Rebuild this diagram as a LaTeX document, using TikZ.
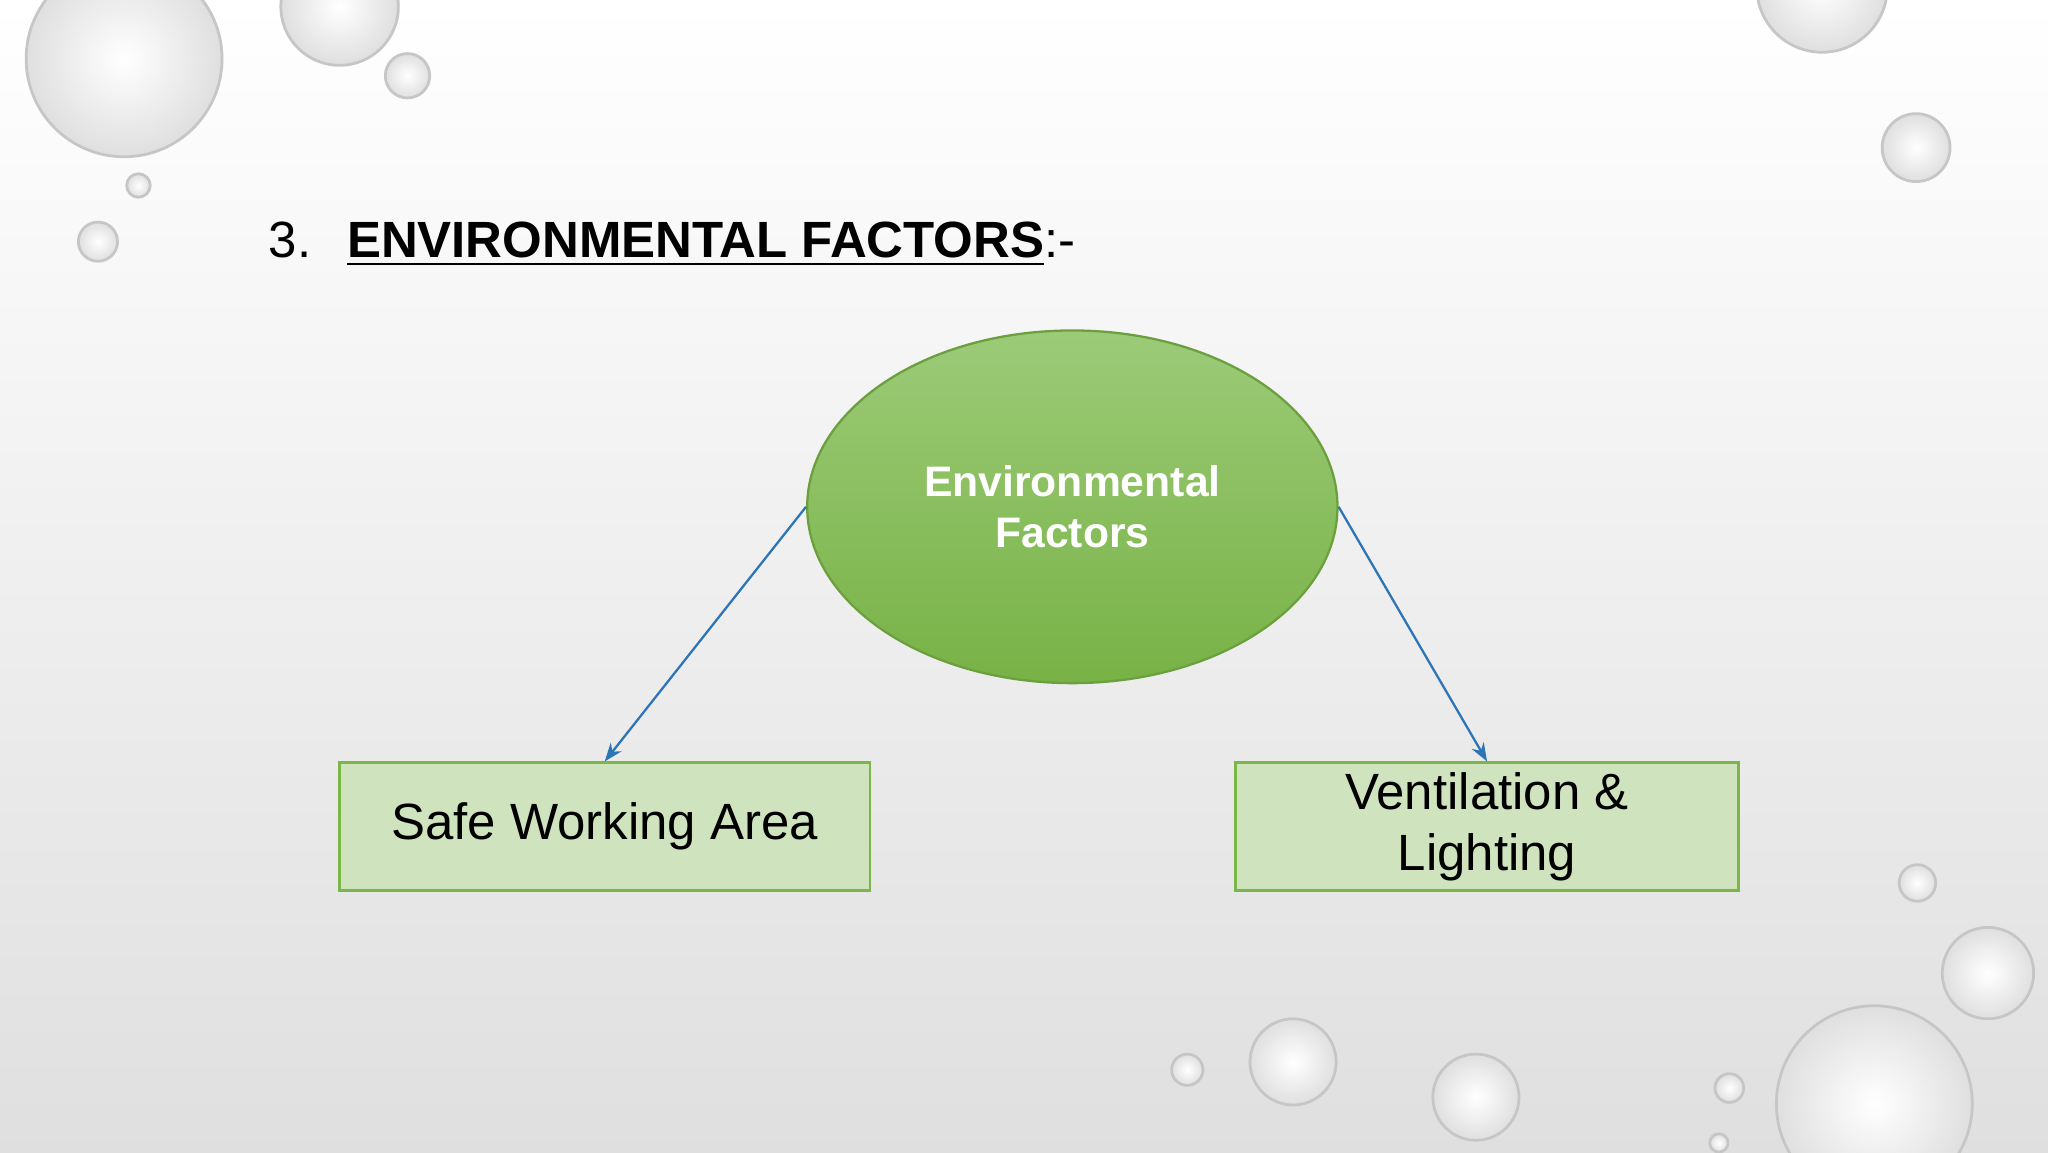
\documentclass[tikz,border=0pt]{standalone}
\usepackage{fontspec}
\setmainfont{Liberation Sans}
\usetikzlibrary{arrows.meta,shapes.geometric}
\definecolor{arr}{HTML}{2E75B6}
\definecolor{boxfill}{HTML}{CFE3BF}
\definecolor{boxline}{HTML}{7AB648}
\definecolor{elltop}{HTML}{9CCB78}
\definecolor{ellbot}{HTML}{78B246}
\tikzset{
  drop/.style={circle,draw=gray!45,line width=0.6pt,inner color=white,outer color=gray!25},
  leaf/.style={draw=boxline,fill=boxfill,line width=0.6pt,minimum width=4.06cm,minimum height=0.98cm,inner sep=1pt,align=center,font=\fontsize{11.1}{13.3}\selectfont},
  conn/.style={draw=arr,line width=0.5pt,-{Stealth[length=4pt,width=3pt]}}
}
\begin{document}
\begin{tikzpicture}
\shade[top color=white,bottom color=gray!25] (0,0) rectangle (15.68,-8.82);
\useasboundingbox (0,0) rectangle (15.68,-8.82);
% droplets
\fill[drop] (0.95,-0.45) circle (0.75);
\fill[drop] (2.6,-0.05) circle (0.45);
\fill[drop] (3.12,-0.58) circle (0.17);
\fill[drop] (1.06,-1.42) circle (0.09);
\fill[drop] (0.75,-1.85) circle (0.15);
\fill[drop] (13.95,0.1) circle (0.5);
\fill[drop] (14.67,-1.13) circle (0.26);
\fill[drop] (14.68,-6.76) circle (0.14);
\fill[drop] (15.22,-7.45) circle (0.35);
\fill[drop] (14.35,-8.45) circle (0.75);
\fill[drop] (13.24,-8.33) circle (0.11);
\fill[drop] (13.16,-8.75) circle (0.07);
\fill[drop] (9.9,-8.13) circle (0.33);
\fill[drop] (11.3,-8.4) circle (0.33);
\fill[drop] (9.09,-8.19) circle (0.12);
% title
\node[anchor=base west,inner sep=0pt,font=\fontsize{11.1}{12}\selectfont] (num) at (2.05,-1.97) {3.};
\node[anchor=base west,inner sep=0pt,font=\fontsize{11.1}{12}\selectfont] (ttl) at (2.65,-1.97) {\textbf{\underline{ENVIRONMENTAL FACTORS}}:-};
% ellipse
\node[ellipse,draw=ellbot!90!black,line width=0.5pt,top color=elltop,bottom color=ellbot,minimum width=4.06cm,minimum height=2.7cm,text=white,align=center,font=\fontsize{9.3}{11.2}\selectfont\bfseries] (env) at (8.21,-3.88) {Environmental\\Factors};
\node[leaf] (safe) at (4.63,-6.33) {Safe Working Area};
\node[leaf,minimum width=3.85cm] (vent) at (11.385,-6.33) {Ventilation \&\\Lighting};
\draw[conn] (env.west) -- (safe.north);
\draw[conn] (env.east) -- (vent.north);
\end{tikzpicture}
\end{document}
